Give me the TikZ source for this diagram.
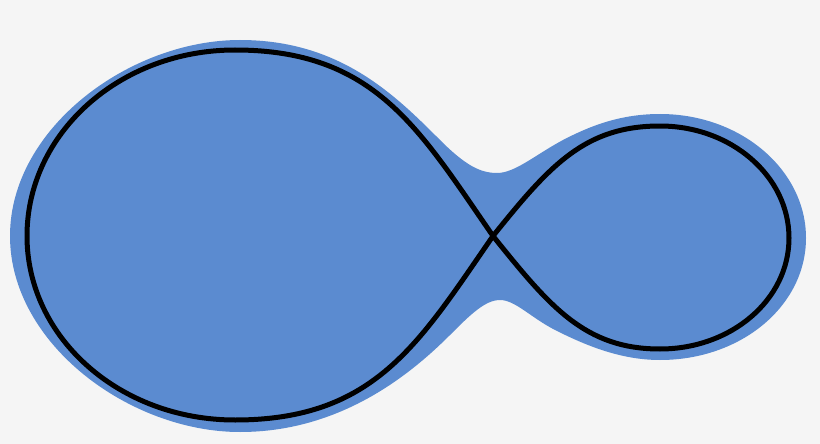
\documentclass[tikz,border=0pt]{standalone}
\begin{document}
\begin{tikzpicture}[x=1pt,y=-1pt]
\definecolor{bg}{HTML}{F5F5F5}
\definecolor{lobe}{HTML}{5B8BD0}
\fill[bg] (0,0) rectangle (820,444);
\useasboundingbox (0,0) rectangle (820,444);
% outer envelope
\fill[lobe] (10,236) .. controls (10,128) and (130,40) .. (240,40)
  .. controls (340,40) and (395,95) .. (440,140)
  .. controls (465,165) and (480,173) .. (497,173)
  .. controls (515,173) and (535,155) .. (563,140)
  .. controls (590,126) and (620,114) .. (660,114)
  .. controls (741,114) and (806,170) .. (806,238)
  .. controls (806,306) and (741,360) .. (660,360)
  .. controls (620,360) and (585,345) .. (555,330)
  .. controls (530,317) and (515,300) .. (500,300)
  .. controls (485,300) and (470,315) .. (450,335)
  .. controls (410,375) and (340,432) .. (240,432)
  .. controls (130,432) and (10,344) .. (10,236) -- cycle;
% figure eight
\coordinate (x) at (493,236);
\draw[line width=5pt,line join=round]
  (x) .. controls (419,129) and (375,50) .. (235,50)
  .. controls (120,50) and (27,133) .. (27,236)
  .. controls (27,338) and (120,420) .. (235,420)
  .. controls (375,420) and (419,343) .. (x)
  .. controls (550,165) and (585,126) .. (660,126)
  .. controls (731,126) and (789,176) .. (789,238)
  .. controls (789,300) and (731,349) .. (660,349)
  .. controls (585,349) and (550,307) .. (x);
\end{tikzpicture}
\end{document}
